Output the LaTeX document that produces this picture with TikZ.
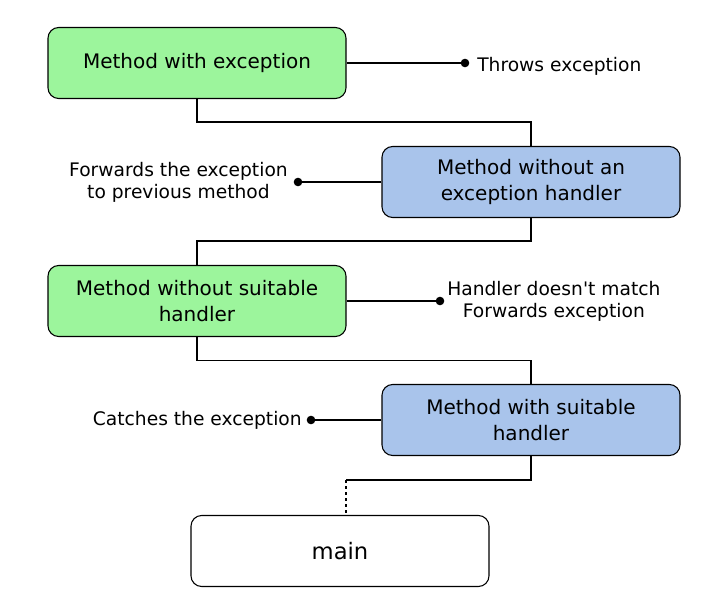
\documentclass[tikz,border=0pt]{standalone}
\usepackage{fontspec}
\setmainfont{DejaVu Sans}
\usetikzlibrary{positioning}

\definecolor{boxgreen}{RGB}{156,245,156}
\definecolor{boxblue}{RGB}{169,196,235}

\tikzset{
	methodbox/.style={draw, line width=0.8pt, rounded corners=8pt, minimum width=223.5pt, minimum height=53.25pt, align=center, font=\fontsize{15}{19}\selectfont},
	greenbox/.style={methodbox, fill=boxgreen},
	bluebox/.style={methodbox, fill=boxblue},
	mainbox/.style={methodbox, fill=white, font=\fontsize{17}{20}\selectfont},
	note/.style={align=center, inner sep=0pt, font=\fontsize{14}{16.5}\selectfont},
	link/.style={line width=0.8pt}
}

\begin{document}
\begin{tikzpicture}[x=0.75pt, y=-0.75pt]
	\useasboundingbox (0,0) rectangle (720,591);
	\pgfmathsetmacro{\DotRadius}{4.3}
	% method boxes
	\node[greenbox] (Throwing) at (197,63) {Method with exception};
	\node[bluebox] (NoHandler) at (531,182) {Method without an\\exception handler};
	\node[greenbox] (WrongHandler) at (197,301) {Method without suitable\\handler};
	\node[bluebox] (Catching) at (531,420) {Method with suitable\\handler};
	\node[mainbox] (Main) at (340,551) {main};
	% call chain
	\draw[link] (Throwing.south) -- ++(0,23) -| (NoHandler.north);
	\draw[link] (NoHandler.south) -- ++(0,23) -| (WrongHandler.north);
	\draw[link] (WrongHandler.south) -- ++(0,23) -| (Catching.north);
	\coordinate (MainBend) at (346,480);
	\draw[link] (Catching.south) |- (MainBend);
	\draw[link, dash pattern=on 2.5pt off 2pt] (MainBend) -- (MainBend |- Main.north);
	% annotations
	\coordinate (ThrowDot) at (465,63);
	\coordinate (ForwardDot) at (298,182);
	\coordinate (MatchDot) at (440,301);
	\coordinate (CatchDot) at (311,420);
	\draw[link] (Throwing.east) -- (ThrowDot);
	\draw[link] (NoHandler.west) -- (ForwardDot);
	\draw[link] (WrongHandler.east) -- (MatchDot);
	\draw[link] (Catching.west) -- (CatchDot);
	\foreach \d in {ThrowDot,ForwardDot,MatchDot,CatchDot}
		\fill (\d) circle (\DotRadius);
	\node[note, anchor=west] (ThrowNote) at (477,66.5) {Throws exception};
	\node[note, anchor=east] (ForwardNote) at (288,182.5) {Forwards the exception\\to previous method};
	\node[note, anchor=west] (MatchNote) at (447,301.5) {Handler doesn\textquotesingle t match\\Forwards exception};
	\node[note, anchor=east] (CatchNote) at (302,420.5) {Catches the exception};
\end{tikzpicture}
\end{document}
